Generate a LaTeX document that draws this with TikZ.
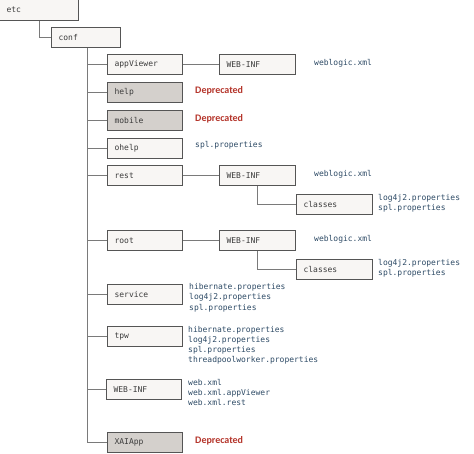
\documentclass[tikz,border=0pt]{standalone}
\usepackage{fontspec}
\setmonofont{DejaVu Sans Mono}
\newfontfamily\depfont{Carlito}
\definecolor{boxline}{HTML}{555555}
\definecolor{boxfill}{HTML}{F8F6F4}
\definecolor{grayfill}{HTML}{D4D0CC}
\definecolor{conn}{HTML}{7A7A7A}
\definecolor{filec}{HTML}{2E4B66}
\definecolor{labc}{HTML}{3C3C3C}
\definecolor{depc}{HTML}{B5352B}
\tikzset{
  dirbox/.style={draw=boxline, line width=1.2pt, fill=boxfill, anchor=north west,
    minimum height=20pt, text width=#1, align=left, inner xsep=7pt, inner ysep=0pt,
    font=\ttfamily\fontsize{8}{10}\selectfont, text=labc},
  dirbox/.default=61pt,
  graybox/.style={dirbox, fill=grayfill},
  files/.style={anchor=north west, inner sep=0pt, align=left,
    font=\ttfamily\fontsize{8}{10.2}\selectfont, text=filec},
  filesw/.style={anchor=west, inner sep=0pt,
    font=\ttfamily\fontsize{8}{10}\selectfont, text=filec},
  depr/.style={anchor=west, inner sep=0pt, text=depc,
    font=\depfont\bfseries\fontsize{10}{12}\selectfont},
  link/.style={draw=conn, line width=0.8pt}
}
\begin{document}
\begin{tikzpicture}[x=1pt,y=-1pt]
\useasboundingbox (0,0) rectangle (474,453);
\fill[white] (0,0) rectangle (474,453);
% boxes
\node[dirbox=65pt, minimum height=22pt] (etc) at (-1,-2) {etc};
\node[dirbox=55pt] (conf) at (51,27) {conf};
\node[dirbox] (appViewer) at (107,54) {appViewer};
\node[graybox] (help) at (107,82) {help};
\node[graybox] (mobile) at (107,110) {mobile};
\node[dirbox] (ohelp) at (107,138) {ohelp};
\node[dirbox] (rest) at (107,165) {rest};
\node[dirbox] (root) at (107,230) {root};
\node[dirbox] (service) at (107,284) {service};
\node[dirbox] (tpw) at (107,326) {tpw};
\node[dirbox] (webinf) at (106,379) {WEB-INF};
\node[graybox] (xai) at (107,432) {XAIApp};
\node[dirbox=62pt] (wiA) at (219,54) {WEB-INF};
\node[dirbox=62pt] (wiR) at (219,165) {WEB-INF};
\node[dirbox=62pt] (wiT) at (219,230) {WEB-INF};
\node[dirbox=62pt] (clR) at (296,194) {classes};
\node[dirbox=62pt] (clT) at (296,259) {classes};
% connectors
\draw[link] (etc.south) |- (conf.west);
\draw[link] (conf.south) ++(1.5,0) coordinate (trunk) |- (xai.west);
\foreach \n in {appViewer,help,mobile,ohelp,rest,root,service,tpw,webinf}
  \draw[link] (trunk |- \n.west) -- (\n.west);
\draw[link] (appViewer.east) -- (wiA.west);
\draw[link] (rest.east) -- (wiR.west);
\draw[link] (root.east) -- (wiT.west);
\draw[link] (wiR.south) |- (clR.west);
\draw[link] (wiT.south) |- (clT.west);
% file texts
\node[filesw] (fA) at (314,63) {weblogic.xml};
\node[filesw] (fR) at (314,174) {weblogic.xml};
\node[filesw] (fT) at (314,239) {weblogic.xml};
\node[files] (fclR) at (378,194) {log4j2.properties\\spl.properties};
\node[files] (fclT) at (378,259) {log4j2.properties\\spl.properties};
\node[filesw] (fo) at (195,145) {spl.properties};
\node[files] (fs) at (189,283.5) {hibernate.properties\\log4j2.properties\\spl.properties};
\node[files] (ft) at (188,326) {hibernate.properties\\log4j2.properties\\spl.properties\\threadpoolworker.properties};
\node[files] (fw) at (188,379) {web.xml\\web.xml.appViewer\\web.xml.rest};
\node[depr] (d1) at (195,91) {Deprecated};
\node[depr] (d2) at (195,119) {Deprecated};
\node[depr] (d3) at (195,441) {Deprecated};
\end{tikzpicture}
\end{document}
